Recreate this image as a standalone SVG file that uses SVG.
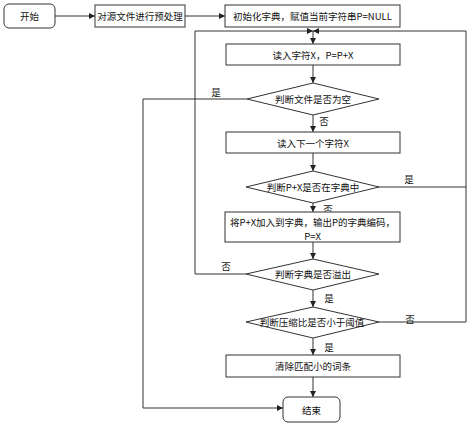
<svg xmlns="http://www.w3.org/2000/svg" width="474" height="425" viewBox="0 0 474 425">
<style>
.b{fill:#fff;stroke:#333;stroke-width:1}
.l{fill:none;stroke:#333;stroke-width:1}
text{font-family:"Noto Sans CJK SC","Liberation Sans",sans-serif;font-size:9.5px;fill:#111;text-anchor:middle;dominant-baseline:central}
</style>
<defs>
<marker id="a" markerWidth="6" markerHeight="6" refX="6" refY="3" orient="auto" markerUnits="userSpaceOnUse">
<path d="M0,0 L6,3 L0,6 Z" fill="#222"/>
</marker>
</defs>
<g id="connectors">
<path class="l" d="M55,16 H95" marker-end="url(#a)"/>
<path class="l" d="M185,16 H225" marker-end="url(#a)"/>
<path class="l" d="M313,31 V44" marker-end="url(#a)"/>
<path class="l" d="M313,65 V83" marker-end="url(#a)"/>
<path class="l" d="M313,115 V132" marker-end="url(#a)"/>
<path class="l" d="M313,153 V171" marker-end="url(#a)"/>
<path class="l" d="M313,203 V212" marker-end="url(#a)"/>
<path class="l" d="M313,242 V259" marker-end="url(#a)"/>
<path class="l" d="M313,290 V307" marker-end="url(#a)"/>
<path class="l" d="M313,338 V355" marker-end="url(#a)"/>
<path class="l" d="M313,377 V397" marker-end="url(#a)"/>
<path class="l" d="M247,99 H143 V408 H283" marker-end="url(#a)"/>
<path class="l" d="M246,274 H195 V31 H313" marker-end="url(#a)"/>
<path class="l" d="M378,187 H466 V31 H313" marker-end="url(#a)"/>
<path class="l" d="M379,322 H466 V187"/>
<text x="216" y="92">是</text>
<text x="324" y="121">否</text>
<text x="409" y="179">是</text>
<text x="328" y="209">否</text>
<text x="226" y="266">否</text>
<text x="329" y="298">是</text>
<text x="410" y="319">否</text>
<text x="329" y="347">是</text>
</g>
<g id="start"><rect class="b" x="4" y="4" width="51" height="24" rx="5"/><text x="29.5" y="16">开始</text></g>
<g id="preprocess"><rect class="b" x="95" y="5" width="90" height="22"/><text x="140" y="16">对源文件进行预处理</text></g>
<g id="init"><rect class="b" x="225" y="5" width="175" height="22"/><text x="312.5" y="16">初始化字典，赋值当前字符串P=NULL</text></g>
<g id="read"><rect class="b" x="226" y="44" width="174" height="21"/><text x="313" y="54.5">读入字符X，P=P+X</text></g>
<g id="empty"><polygon class="b" points="313,83 379,99 313,115 247,99"/><text x="313" y="99">判断文件是否为空</text></g>
<g id="readnext"><rect class="b" x="226" y="132" width="174" height="21"/><text x="313" y="142.5">读入下一个字符X</text></g>
<g id="indict"><polygon class="b" points="313,171 379,187 313,203 246,187"/><text x="313" y="187">判断P+X是否在字典中</text></g>
<g id="add"><rect class="b" x="225" y="212" width="175" height="30"/><text x="312.5" y="222">将P+X加入到字典，输出P的字典编码，</text><text x="312.5" y="236">P=X</text></g>
<g id="overflow"><polygon class="b" points="313,259 379,274 313,290 246,274"/><text x="313" y="274">判断字典是否溢出</text></g>
<g id="ratio"><polygon class="b" points="313,307 379,322 313,338 246,322"/><text x="312" y="322">判断压缩比是否小于阈值</text></g>
<g id="clear"><rect class="b" x="226" y="355" width="174" height="22"/><text x="313" y="366">清除匹配小的词条</text></g>
<g id="end"><rect class="b" x="283" y="397" width="57" height="25" rx="5"/><text x="311.5" y="409.5">结束</text></g>
</svg>
